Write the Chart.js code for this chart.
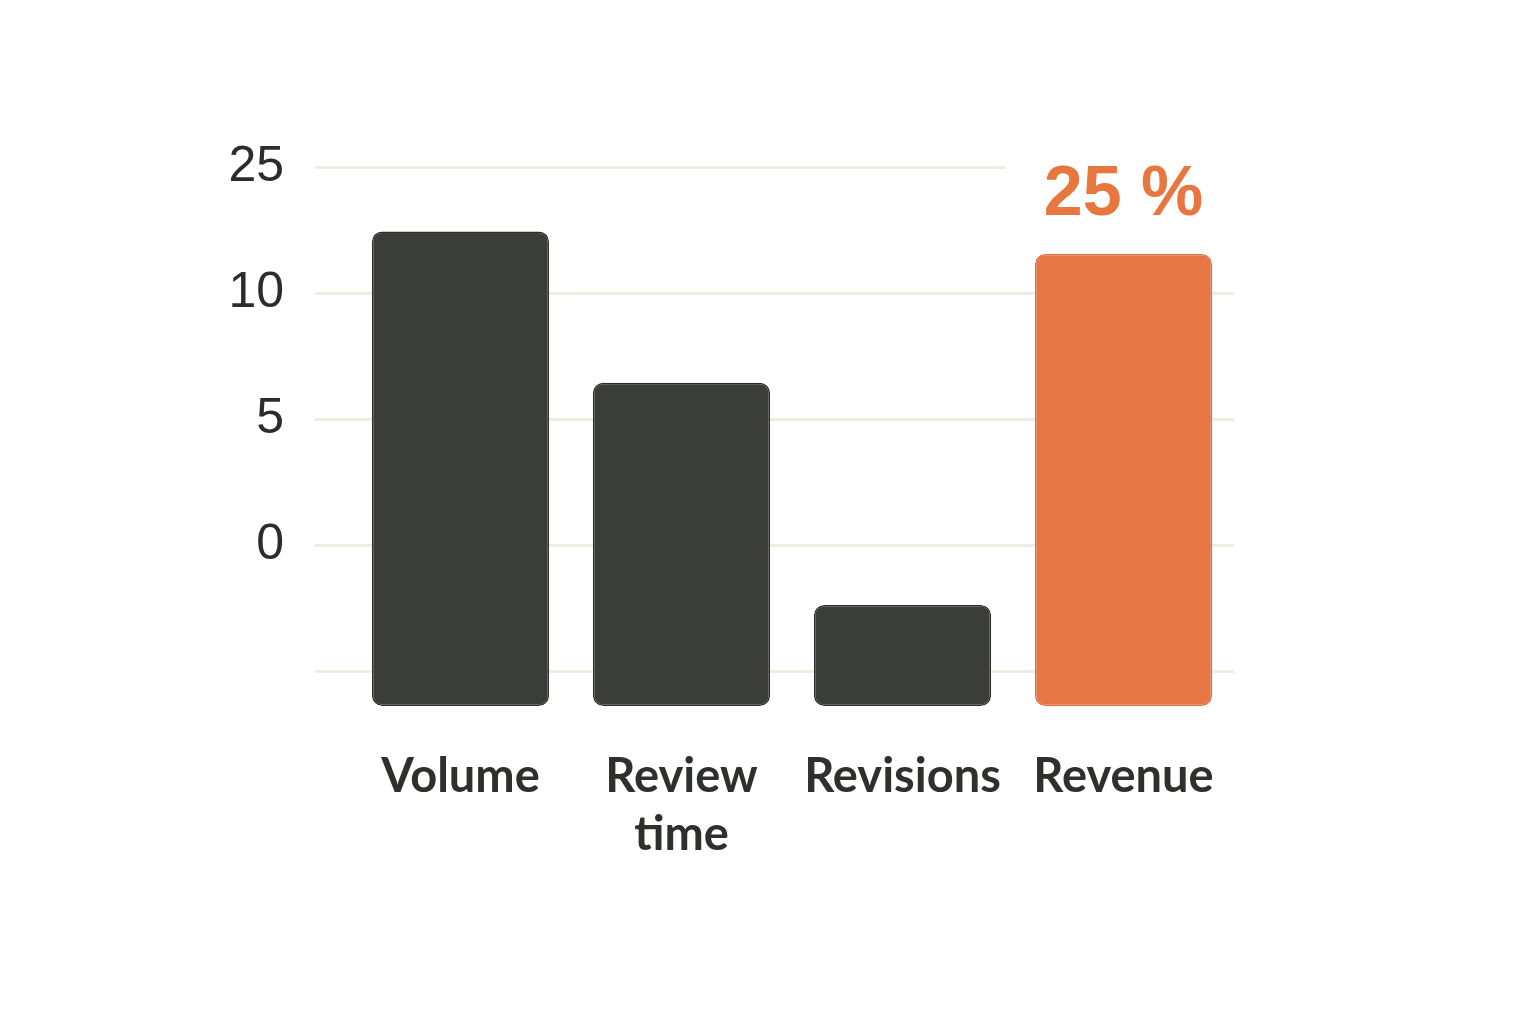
<!DOCTYPE html>
<html>
<head>
<meta charset="utf-8">
<script src="https://cdn.jsdelivr.net/npm/chart.js@4/dist/chart.umd.min.js"></script>
<style>
  html, body { margin: 0; padding: 0; background: #ffffff; }
  canvas { display: block; }
</style>
</head>
<body>
<canvas id="chart" width="1536" height="1024"></canvas>
<script>
// categories along the x axis
const categories = ['Volume', ['Review', 'time'], 'Revisions', 'Revenue'];
// bar heights read against the evenly spaced gridlines (one unit = one gridline step)
const barValues = [3.49, 2.29, 0.53, 3.31];
// gridline positions and the labels printed next to them
const tickSlots = [0, 1, 2, 3, 4];
const tickLabels = ['', '0', '5', '10', '25'];
const barColors = ['#3b3d39', '#3b3d39', '#3b3d39', '#e67744'];
const barEdges = ['#2c2e2a', '#2c2e2a', '#2c2e2a', '#e06f3d'];
const highlightText = '25 %';
const highlightIndex = 3;

const axisMin = -0.27;
const axisMax = 4;

const highlightLabel = {
    id: 'highlightLabel',
    afterDatasetsDraw(chart) {
        const ctx = chart.ctx;
        const bar = chart.getDatasetMeta(0).data[highlightIndex];
        const yTop = chart.scales.y.getPixelForValue(axisMax);
        ctx.save();
        // the top gridline stops short of the label in the reference
        ctx.fillStyle = '#ffffff';
        ctx.fillRect(bar.x - 118, yTop - 6, 300, 12);
        ctx.fillStyle = '#e8773f';
        ctx.font = 'bold 70px "Liberation Sans", Arial, sans-serif';
        ctx.textAlign = 'center';
        ctx.textBaseline = 'middle';
        ctx.fillText(highlightText, bar.x, yTop + 29);
        ctx.restore();
    }
};

new Chart(document.getElementById('chart').getContext('2d'), {
    type: 'bar',
    data: {
        labels: categories,
        datasets: [{
            data: barValues,
            base: axisMin,
            backgroundColor: barColors,
            borderColor: barEdges,
            borderWidth: 1.5,
            borderSkipped: false,
            borderRadius: 10,
            categoryPercentage: 0.81,
            barPercentage: 0.99
        }]
    },
    options: {
        responsive: false,
        animation: false,
        layout: { padding: { top: 167, right: 302, left: 0, bottom: 0 } },
        plugins: {
            legend: { display: false },
            tooltip: { enabled: false }
        },
        scales: {
            x: {
                grid: { display: false },
                border: { display: false },
                ticks: {
                    color: '#2e302c',
                    padding: 33,
                    maxRotation: 0,
                    autoSkip: false,
                    font: { family: 'Lato', weight: 'bold', size: 47, lineHeight: 1.25 }
                },
                afterFit(scale) { scale.height = 1024 - 706; }
            },
            y: {
                min: axisMin,
                max: axisMax,
                border: { display: false },
                grid: {
                    color: '#f1ece2',
                    lineWidth: 3,
                    drawTicks: true,
                    tickLength: 35,
                    tickColor: '#f1ece2'
                },
                ticks: {
                    color: '#2b2d2a',
                    padding: 31,
                    font: { family: '"Liberation Sans", Arial, sans-serif', size: 50 },
                    callback: (value) => tickLabels[tickSlots.indexOf(value)]
                },
                afterBuildTicks(scale) {
                    scale.ticks = tickSlots.map(v => ({ value: v }));
                },
                afterFit(scale) { scale.width = 350; }
            }
        }
    },
    plugins: [highlightLabel]
});
</script>
</body>
</html>
